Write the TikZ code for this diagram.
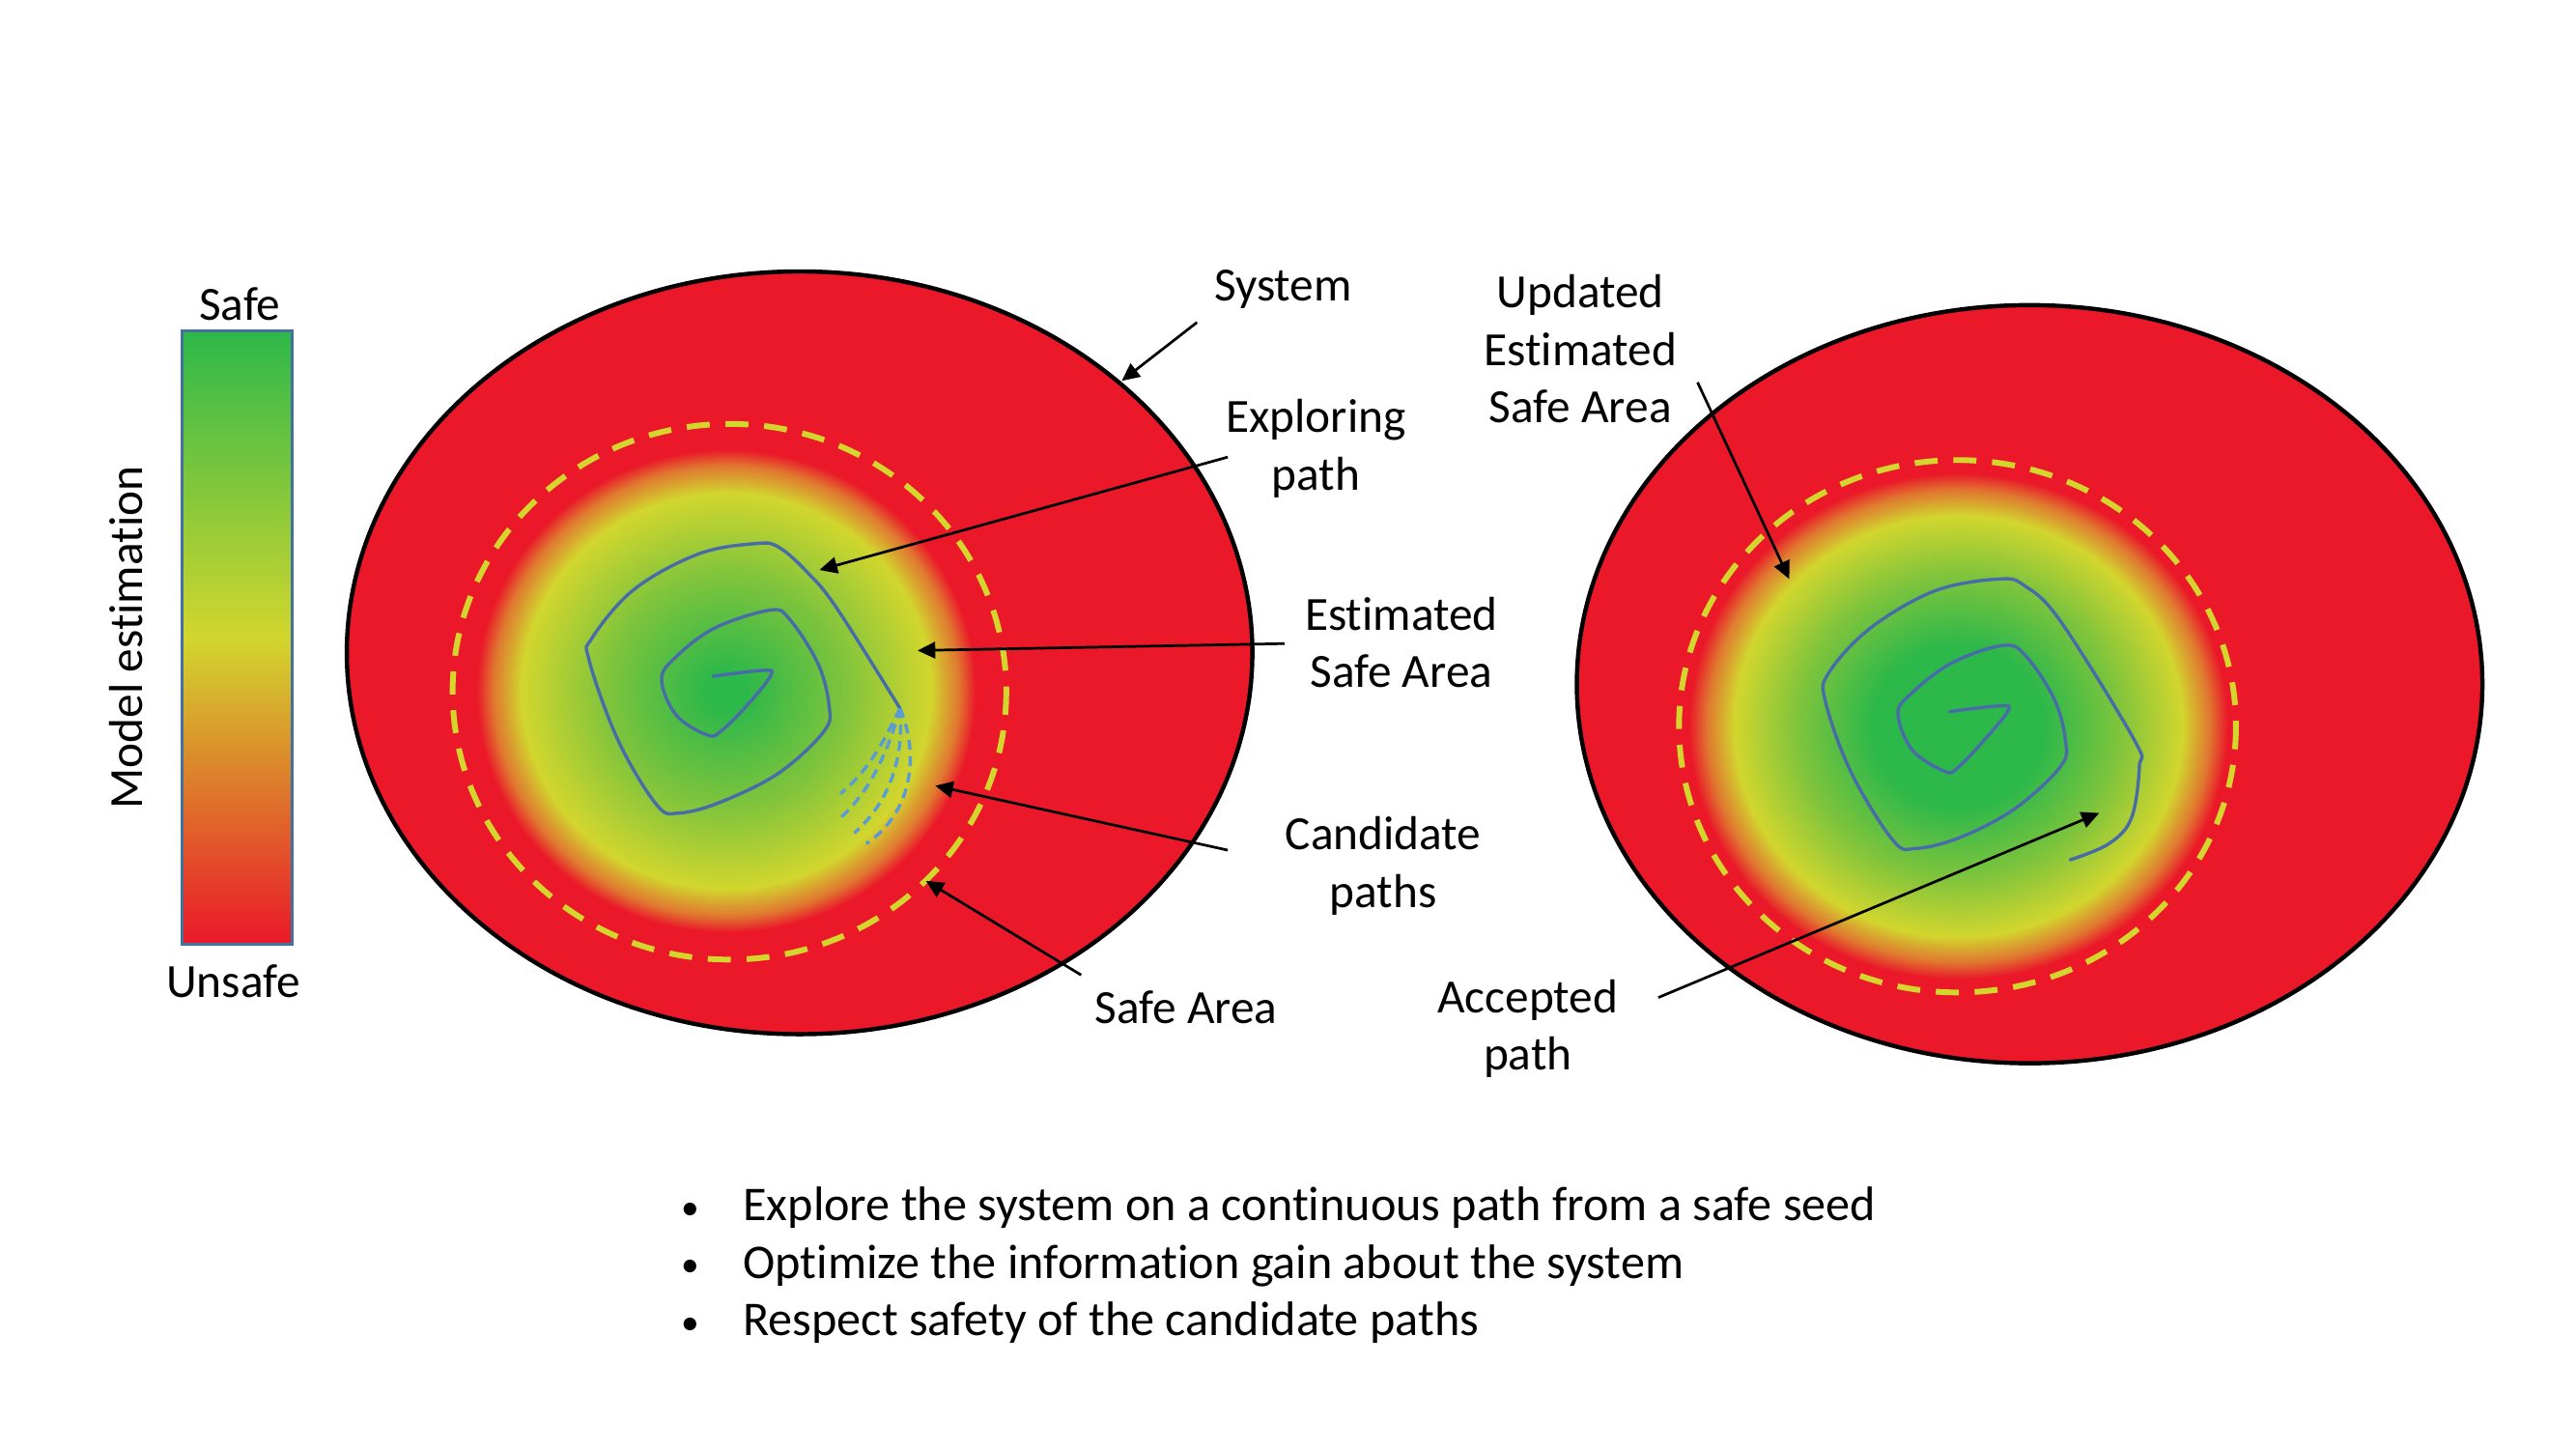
\documentclass[tikz,border=0pt]{standalone}
\usepackage{fontspec}
\setmainfont{Carlito}[Ligatures=NoCommon]
\usetikzlibrary{arrows.meta}
\definecolor{sysred}{RGB}{234,24,41}
\definecolor{safegreen}{RGB}{45,184,74}
\definecolor{midgreen}{RGB}{128,196,60}
\definecolor{safeyellow}{RGB}{210,214,46}
\definecolor{safeorange}{RGB}{224,120,48}
\definecolor{pathblue}{RGB}{72,108,168}
\definecolor{candblue}{RGB}{91,155,213}
\definecolor{barblue}{RGB}{65,113,156}
\definecolor{dashyellow}{RGB}{212,214,46}
\pgfdeclareradialshading{leftgrad}{\pgfpoint{0bp}{0bp}}{color(0bp)=(safegreen); color(2bp)=(safegreen); color(12bp)=(midgreen); color(20.5bp)=(safeyellow); color(23.3bp)=(safeorange); color(25bp)=(sysred); color(50bp)=(sysred)}
\pgfdeclareradialshading{rightgrad}{\pgfpoint{0bp}{0bp}}{color(0bp)=(safegreen); color(8bp)=(safegreen); color(15bp)=(midgreen); color(20.8bp)=(safeyellow); color(23.3bp)=(safeorange); color(25bp)=(sysred); color(50bp)=(sysred)}
\tikzset{
  lbl/.style={font=\fontsize{14.5}{17.5}\selectfont, align=center, inner sep=0pt},
  bullettext/.style={font=\fontsize{14.75}{17.5}\selectfont, inner sep=0pt, anchor=base west},
  bulletdot/.style={font=\fontsize{11}{17.5}\selectfont, inner sep=0pt, anchor=base},
  systemshape/.style={fill=sysred, draw=black, line width=1.3pt},
  safedash/.style={draw=dashyellow, line width=1.75pt, dash pattern=on 7pt off 4.8pt},
  spiral/.style={draw=pathblue, line width=1pt, line cap=round},
  candpath/.style={draw=candblue, line width=1pt, dash pattern=on 3pt off 2pt},
  callout/.style={draw=black, line width=0.8pt, -{Triangle[length=5.4pt,width=5pt]}},
}
\begin{document}
\begin{tikzpicture}[x=0.5pt,y=-0.5pt]
\useasboundingbox (0,0) rectangle (1568,882);
\fill[white] (0,0) rectangle (1568,882);

% colour bar
\shade[top color=safegreen, bottom color=sysred, middle color=safeyellow] (110.7,201.4) rectangle (178,574.7);
\draw[barblue, line width=1pt] (110.7,201.4) rectangle (178,574.7);
\node[lbl] (safe) at (146,185) {Safe};
\node[lbl] (unsafe) at (142,597) {Unsafe};
\node[lbl, rotate=90] (model) at (77,388) {Model estimation};

% left system
\path[systemshape] (486.7,397.3) ellipse [x radius=275.6, y radius=232.1];
\shade[shading=leftgrad] (442,420.5) ellipse [x radius=152, y radius=147];
\path[safedash] (444,421) ellipse [x radius=168.5, y radius=163];
\draw[spiral] plot[smooth, tension=0.6] coordinates {(434.1,411.5) (464.5,408.0) (469.4,410.6) (456.6,427.2) (439.0,444.9) (430.2,447.2) (411.5,435.1) (402.7,413.5) (411.5,399.8) (435.1,382.2) (468.4,371.4) (480.1,376.3) (497.8,403.7) (504.6,429.2) (501.7,444.9) (474.3,470.3) (439.0,488.0) (413.5,494.8) (399.8,489.9) (376.3,450.7) (358.6,401.8) (360.6,388.0) (386.1,358.6) (425.3,337.1) (460.5,330.8) (474.3,333.2) (491.9,348.8) (509.5,370.4) (547.8,431.1)};
\coordinate (tip) at (547.8,431.1);
\draw[candpath] (tip) .. controls (540,447) and (530,468) .. (511.5,483.1);
\draw[candpath] (tip) .. controls (542,452) and (532,480) .. (510.5,498.7);
\draw[candpath] (tip) .. controls (550,455) and (545,485) .. (520,507);
\draw[candpath] (tip) .. controls (560,460) and (555,495) .. (527.2,513.5);

% right system
\path[systemshape] (1235.4,416.4) ellipse [x radius=275.6, y radius=230.7];
\shade[shading=rightgrad] (1192,442) ellipse [x radius=164, y radius=154];
\path[safedash] (1191.5,442) ellipse [x radius=169.5, y radius=162];
\draw[spiral] plot[smooth, tension=0.6] coordinates {(1186.6,433.1) (1217.0,429.6) (1222.5,432.1) (1209.2,448.8) (1191.5,467.4) (1183.7,469.4) (1164.1,456.6) (1155.3,435.1) (1162.1,423.3) (1187.6,403.7) (1218.9,392.9) (1232.7,398.8) (1250.3,425.3) (1257.2,450.7) (1254.3,466.4) (1226.8,491.9) (1193.5,509.5) (1166.0,516.4) (1152.3,511.5) (1126.9,470.3) (1111.2,427.2) (1113.1,409.6) (1138.6,382.2) (1177.8,359.6) (1217.0,352.4) (1232.7,356.7) (1254.3,378.2) (1299.3,450.7) (1302.2,466.4) (1297.4,497.8) (1283.6,513.5) (1260.1,523.3)};

% labels
\node[lbl] (system) at (781,176) {System};
\node[lbl] (exploring) at (801,273) {Exploring\\path};
\node[lbl] (estimated) at (853,391) {Estimated\\Safe Area};
\node[lbl] (candidate) at (842,527) {Candidate\\paths};
\node[lbl] (safearea) at (722,613) {Safe Area};
\node[lbl] (updated) at (962,212.5) {Updated\\Estimated\\Safe Area};
\node[lbl] (accepted) at (930,626) {Accepted\\path};

% callout arrows
\coordinate (sysS) at (728.6,196.2);  \coordinate (sysT) at (682.8,231.8);
\coordinate (expS) at (747.3,278.2);  \coordinate (expT) at (498.8,346.9);
\coordinate (estS) at (781.8,391.7);  \coordinate (estT) at (558.5,395.9);
\coordinate (candS) at (747.3,517.4); \coordinate (candT) at (569.3,478.2);
\coordinate (saS) at (658.1,593.4);   \coordinate (saT) at (563.6,536.1);
\coordinate (updS) at (1033.3,232.7); \coordinate (updT) at (1089.1,352.4);
\coordinate (accS) at (1009.4,607.1); \coordinate (accT) at (1277.8,494.8);
\draw[callout] (sysS) -- (sysT);
\draw[callout] (expS) -- (expT);
\draw[callout] (estS) -- (estT);
\draw[callout] (candS) -- (candT);
\draw[callout] (saS) -- (saT);
\draw[callout] (updS) -- (updT);
\draw[callout] (accS) -- (accT);

% bullet list
\node[bulletdot] (d1) at (420,742) {•};
\node[bulletdot] (d2) at (420,777) {•};
\node[bulletdot] (d3) at (420,812) {•};
\node[bullettext] (b1) at (452,743) {Explore the system on a continuous path from a safe seed};
\node[bullettext] (b2) at (452,778) {Optimize the information gain about the system};
\node[bullettext] (b3) at (452,813) {Respect safety of the candidate paths};
\end{tikzpicture}
\end{document}
